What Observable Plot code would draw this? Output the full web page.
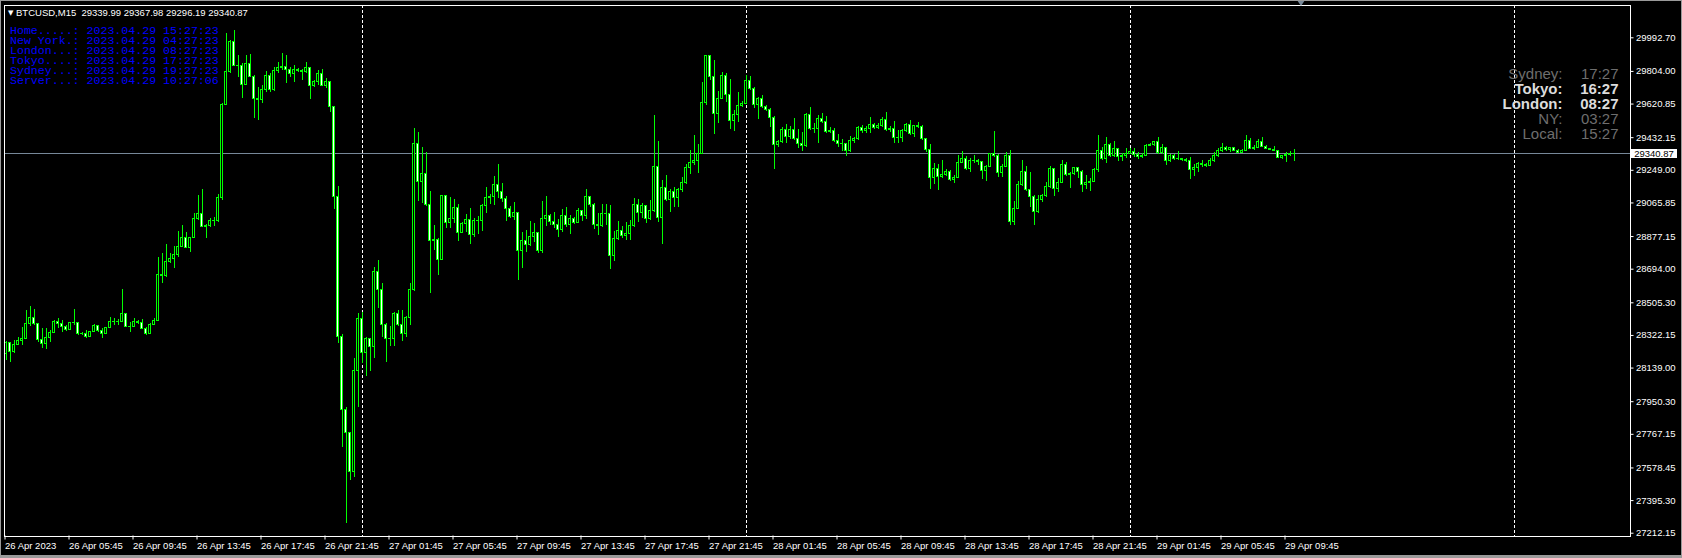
<!DOCTYPE html>
<html><head><meta charset="utf-8">
<script src="https://cdn.jsdelivr.net/npm/d3@7"></script>
<script src="https://cdn.jsdelivr.net/npm/@observablehq/plot@0.6"></script>
<style>
html,body{margin:0;padding:0;background:#000;overflow:hidden;}
#wrap{position:relative;width:1682px;height:558px;overflow:hidden;background:#000;}
#wrap svg{position:absolute;left:0;top:0;}
.ov{position:absolute;white-space:pre;}
#hdr{left:8px;top:6px;font:9.5px "Liberation Sans",Arial,sans-serif;color:#fff;line-height:13px;}
#hdr .tri{font:7px "DejaVu Sans",sans-serif;position:relative;top:-1px;}
#clk{left:10px;top:25.5px;font:11.6px "Liberation Mono","Courier New",monospace;color:#0000ff;line-height:10px;}
.sess{font:15px "Liberation Sans",Arial,sans-serif;line-height:15px;text-align:right;}
#sessN{left:1440px;top:66px;width:122.5px;}
#sessT{left:1570px;top:66px;width:48.5px;}
.on{color:#dcdcdc;font-weight:bold;}
.off{color:#6e6e6e;}
.bd{position:absolute;background:#9a9a9a;}
#shift{position:absolute;left:1297px;top:0;width:0;height:0;border-left:4px solid transparent;border-right:4px solid transparent;border-top:6px solid #778899;}
#pbox{position:absolute;left:1631px;width:46px;height:9px;background:#fff;color:#000;font:9.5px "Liberation Sans",Arial,sans-serif;line-height:9px;text-align:center;}
</style></head><body><div id="wrap"></div>
<script>
// ---- data ----
const symbolName = "BTCUSD,M15";
const lastOHLC = [29339.99, 29367.98, 29296.19, 29340.87];
const currentPrice = 29340.87;
const firstOpen = 28219;
const closes = [
28279,28228,28271,28290,28303,28384,28421,28384,28299,28275,
28307,28337,28397,28384,28369,28354,28391,28391,28331,28331,
28312,28341,28374,28346,28331,28365,28397,28397,28397,28443,
28369,28372,28399,28393,28359,28331,28382,28406,28662,28657,
28733,28752,28771,28818,28870,28814,28870,28977,29005,28930,
28934,28967,28962,29095,29617,29800,29968,29837,29837,29729,
29847,29772,29650,29641,29701,29781,29697,29804,29824,29828,
29813,29790,29813,29809,29800,29824,29723,29742,29790,29723,
29742,29603,29098,28312,27905,27774,27553,28120,28415,28223,
28303,28256,28681,28578,28378,28303,28303,28443,28382,28331,
28421,28578,29398,29182,29229,29055,28855,28859,28747,29102,
28956,28975,29038,28898,28949,28971,28887,28967,28965,29046,
29095,29098,29167,29130,29089,29033,28986,29008,28795,28855,
28827,28874,28898,28795,28977,28992,28958,28943,28915,28992,
28943,28977,28952,29023,28992,29098,29055,28943,28939,29005,
29003,28767,28864,28907,28883,28889,28936,29055,29008,29046,
28977,29020,29270,28982,29151,29085,29130,29095,29136,29179,
29263,29291,29299,29342,29628,29888,29772,29566,29650,29779,
29673,29527,29560,29611,29622,29749,29706,29617,29650,29607,
29590,29544,29392,29407,29476,29435,29476,29424,29398,29385,
29562,29480,29480,29538,29519,29465,29472,29416,29398,29394,
29356,29413,29426,29487,29472,29482,29506,29487,29495,29532,
29476,29482,29431,29431,29469,29506,29454,29495,29493,29424,
29364,29205,29257,29214,29225,29242,29196,29207,29291,29313,
29257,29304,29300,29295,29244,29270,29338,29332,29233,29270,
29327,28958,29033,29167,29242,29139,29098,29014,29080,29102,
29154,29257,29145,29177,29276,29224,29226,29261,29239,29168,
29179,29182,29248,29355,29313,29392,29328,29370,29323,29327,
29341,29351,29336,29323,29332,29388,29392,29407,29345,29375,
29300,29332,29313,29313,29308,29300,29248,29263,29285,29276,
29274,29300,29327,29356,29375,29364,29373,29360,29347,29358,
29414,29370,29377,29407,29379,29370,29364,29358,29319,29327,
29334,29339.99,29340.87];
const highs = [
28290,28260,28294,28312,28365,28462,28485,28466,28391,28359,
28359,28350,28406,28415,28406,28378,28397,28466,28397,28341,
28350,28344,28382,28378,28359,28369,28425,28415,28410,28578,
28447,28397,28415,28406,28412,28365,28387,28415,28758,28780,
28831,28780,28821,28906,28939,28902,28874,29005,29108,29141,
28945,28977,28986,29113,29622,30015,29978,30034,29893,29847,
29893,29897,29781,29716,29725,29804,29791,29828,29856,29907,
29893,29828,29837,29822,29813,29854,29828,29753,29809,29813,
29762,29747,29607,29158,28327,27916,27774,28191,28443,28453,
28312,28303,28705,28743,28612,28387,28372,28453,28462,28462,
28428,28612,29484,29459,29375,29347,29130,28939,28864,29108,
29102,29098,29085,29057,28958,29001,29033,28977,28990,29057,
29154,29113,29214,29282,29177,29102,29046,29068,29014,28902,
28911,28962,28952,28902,29074,29102,29000,29010,28973,29029,
29038,28995,28982,29033,29020,29141,29104,29061,29005,29057,
29057,29051,28906,28962,28936,28958,28967,29089,29083,29061,
29051,29080,29557,29411,29192,29220,29141,29154,29145,29211,
29282,29360,29444,29394,29744,29893,29893,29865,29693,29800,
29790,29757,29585,29688,29637,29781,29776,29716,29659,29669,
29613,29594,29551,29416,29487,29504,29495,29540,29476,29463,
29570,29600,29510,29557,29566,29551,29487,29482,29448,29420,
29398,29439,29435,29495,29501,29495,29544,29510,29510,29544,
29573,29495,29523,29472,29476,29514,29529,29501,29519,29501,
29426,29394,29285,29282,29304,29252,29248,29220,29332,29355,
29327,29313,29332,29308,29300,29276,29345,29467,29338,29282,
29351,29360,29076,29186,29304,29270,29239,29108,29108,29111,
29182,29272,29261,29205,29304,29295,29235,29267,29267,29248,
29220,29205,29261,29444,29379,29433,29398,29411,29373,29341,
29373,29370,29370,29347,29341,29392,29398,29413,29431,29392,
29379,29336,29336,29355,29317,29317,29319,29280,29295,29304,
29285,29313,29351,29370,29398,29383,29379,29379,29364,29364,
29444,29426,29388,29420,29435,29388,29373,29385,29360,29332,
29347,29355,29367.98];
const lows = [
28181,28172,28219,28266,28266,28298,28372,28378,28284,28247,
28243,28284,28331,28359,28341,28346,28350,28378,28322,28324,
28303,28309,28341,28341,28303,28327,28361,28378,28378,28393,
28365,28341,28369,28384,28355,28322,28331,28378,28399,28612,
28649,28724,28696,28762,28814,28810,28790,28866,28967,28926,
28864,28930,28934,28954,29080,29626,29794,29832,29772,29654,
29725,29768,29538,29529,29626,29688,29688,29693,29790,29809,
29734,29772,29744,29800,29753,29790,29648,29716,29725,29719,
29710,29575,29027,28279,27695,27268,27508,27527,27920,28163,
28092,28122,28195,28472,28312,28172,28260,28260,28372,28290,
28309,28378,28571,29074,29065,29046,28556,28799,28659,28743,
28924,28924,28949,28851,28892,28902,28833,28874,28887,28907,
29008,29057,29052,29093,29070,28964,28977,28967,28631,28696,
28790,28821,28846,28784,28784,28936,28939,28924,28874,28902,
28930,28889,28945,28948,28962,28973,29042,28917,28883,28930,
28939,28690,28739,28855,28868,28855,28855,28930,28958,28980,
28952,28967,29014,28958,28833,29076,29014,29042,29042,29126,
29169,29224,29276,29233,29338,29613,29753,29450,29514,29645,
29632,29476,29469,29519,29603,29618,29697,29594,29534,29594,
29581,29491,29254,29379,29398,29401,29420,29416,29370,29356,
29379,29472,29457,29401,29510,29454,29454,29407,29375,29356,
29328,29351,29398,29416,29457,29454,29454,29476,29476,29487,
29469,29463,29401,29398,29407,29463,29444,29435,29482,29416,
29351,29143,29169,29136,29201,29214,29188,29177,29201,29285,
29248,29239,29289,29276,29197,29188,29263,29323,29207,29207,
29263,28939,28939,29027,29158,29132,29042,28939,29005,29066,
29096,29145,29104,29123,29173,29216,29145,29220,29201,29123,
29141,29130,29179,29239,29304,29289,29323,29323,29300,29300,
29317,29336,29323,29310,29317,29328,29383,29385,29340,29336,
29276,29295,29304,29304,29300,29295,29197,29216,29239,29267,
29263,29270,29295,29321,29351,29356,29347,29353,29341,29343,
29355,29366,29360,29371,29375,29364,29358,29355,29313,29312,
29291,29328,29296.19];
const timeTickBars = [0,16,32,48,64,80,96,112,128,144,160,176,192,208,224,240,256,272,288,304,320];
const timeLabels = ["26 Apr 2023","26 Apr 05:45","26 Apr 09:45","26 Apr 13:45","26 Apr 17:45","26 Apr 21:45",
"27 Apr 01:45","27 Apr 05:45","27 Apr 09:45","27 Apr 13:45","27 Apr 17:45","27 Apr 21:45",
"28 Apr 01:45","28 Apr 05:45","28 Apr 09:45","28 Apr 13:45","28 Apr 17:45","28 Apr 21:45",
"29 Apr 01:45","29 Apr 05:45","29 Apr 09:45"];
const daySeparatorBars = [89,185,281,377];
const priceTicks = [29992.70,29804.00,29620.85,29432.15,29249.00,29065.85,28877.15,28694.00,
28505.30,28322.15,28139.00,27950.30,27767.15,27578.45,27395.30,27212.15];
const clockNames = ["Home.....:","New York.:","London...:","Tokyo....:","Sydney...:","Server...:"];
const clockTimes = ["2023.04.29 15:27:23","2023.04.29 04:27:23","2023.04.29 08:27:23","2023.04.29 17:27:23","2023.04.29 19:27:23","2023.04.29 10:27:06"];
const sessionNames = ["Sydney:","Tokyo:","London:","NY:","Local:"];
const sessionTimes = ["17:27","16:27","08:27","03:27","15:27"];
const sessionOpen = [false,true,true,false,false];

// ---- build ----
const bars = closes.map((c, i) => {
  const o = i === 0 ? firstOpen : closes[i - 1];
  return {i, open: o, close: c, high: Math.max(highs[i], o, c), low: Math.min(lows[i], o, c)};
});
const bulls = bars.filter(d => d.close >= d.open);
const bears = bars.filter(d => d.close < d.open);
const lime = "#00ff00";

const plot = Plot.plot({
  width: 1682, height: 558,
  marginLeft: 3.5, marginRight: 52.5, marginTop: 4.5, marginBottom: 22.5,
  style: {background: "#000", color: "#fff", fontFamily: "'Liberation Sans', Arial, sans-serif", fontSize: "9.5px"},
  x: {domain: [-0.5, 406], axis: null, label: null},
  y: {domain: [27196.5, 30176.8], axis: null, label: null},
  marks: [
    Plot.ruleY([currentPrice], {stroke: "#778899", shapeRendering: "crispEdges"}),
    Plot.ruleX(daySeparatorBars, {stroke: "#ffffff", strokeDasharray: "3,2", shapeRendering: "crispEdges"}),
    Plot.ruleX(bars, {x: "i", y1: "low", y2: "high", stroke: lime, shapeRendering: "crispEdges"}),
    Plot.rect(bars, {x1: d => d.i - 0.375, x2: d => d.i + 0.375, y1: "open", y2: "close", fill: lime, insetTop: -0.5, insetBottom: -0.5, shapeRendering: "crispEdges"}),
    Plot.rect(bulls, {x1: d => d.i - 0.125, x2: d => d.i + 0.125, y1: "open", y2: "close", fill: "#000", insetTop: 0.5, insetBottom: 0.5, shapeRendering: "crispEdges"}),
    Plot.rect(bears, {x1: d => d.i - 0.125, x2: d => d.i + 0.125, y1: "open", y2: "close", fill: "#fff", insetTop: 0.5, insetBottom: 0.5, shapeRendering: "crispEdges"}),
    Plot.frame({stroke: "#fff", shapeRendering: "crispEdges"}),
    Plot.axisY({anchor: "right", label: null, ticks: priceTicks, tickFormat: d => d.toFixed(2), tickSize: 3, tickPadding: 3, stroke: "#fff", fill: "#fff"}),
    Plot.axisX({anchor: "bottom", label: null, ticks: timeTickBars, tickFormat: d => timeLabels[timeTickBars.indexOf(d)], tickSize: 4, tickPadding: 2, textAnchor: "start", dx: -1, stroke: "#fff", fill: "#fff"})
  ]
});
const wrap = document.getElementById("wrap");
wrap.appendChild(plot);

function div(id, cls, html) { const d = document.createElement("div"); if (id) d.id = id; d.className = cls; d.innerHTML = html; wrap.appendChild(d); return d; }

// current price label box, placed with Plot's y scale
const py = plot.scale("y").apply(currentPrice);
const pb = div("pbox", "", currentPrice.toFixed(2));
pb.style.top = (py - 4.5) + "px";

// overlays: header, clocks, session table, window borders
div("hdr", "ov", '<span class="tri">▼</span> ' + symbolName + "  " + lastOHLC.map(v => v.toFixed(2)).join(" "));
div("clk", "ov", clockNames.map((n, k) => n + " " + clockTimes[k]).join("\n"));
div("sessN", "ov sess", sessionNames.map((n, k) => `<div class="${sessionOpen[k] ? "on" : "off"}">${n}</div>`).join(""));
div("sessT", "ov sess", sessionTimes.map((n, k) => `<div class="${sessionOpen[k] ? "on" : "off"}">${n}</div>`).join(""));
const sh = document.createElement("div"); sh.id = "shift"; wrap.appendChild(sh);
[["0px","0px","1682px","1px"],["0px","0px","1px","558px"],["0px","555px","1682px","3px"],["1681px","0px","1px","558px"]].forEach(([l,t,w,h]) => {
  const b = document.createElement("div"); b.className = "bd"; Object.assign(b.style, {left:l, top:t, width:w, height:h}); wrap.appendChild(b);
});
</script></body></html>
